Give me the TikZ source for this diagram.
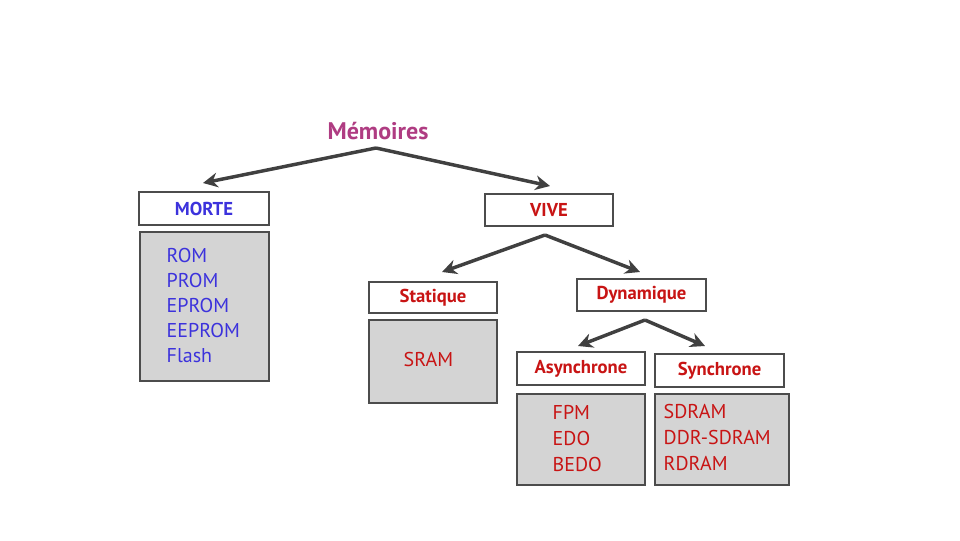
\documentclass[tikz,border=0pt]{standalone}
\usepackage{fontspec}
\setmainfont{PT Sans}
\usetikzlibrary{arrows.meta}
\begin{document}
\begin{tikzpicture}[x=0.75pt,y=-0.75pt,
  hdr/.style={draw=black!70,fill=white,line width=0.8pt,font=\bfseries\fontsize{14}{16}\selectfont},
  gbox/.style={draw=black!70,fill=black!17,line width=0.8pt},
  arr/.style={draw=black!75,line width=2.6pt,-{Stealth[length=11pt,width=11pt]}},
  lst/.style={anchor=west,font=\fontsize{15}{17}\selectfont}]
\definecolor{bl}{RGB}{60,50,220}
\definecolor{rd}{RGB}{200,20,20}
\definecolor{mg}{RGB}{175,60,130}
\useasboundingbox (0,0) rectangle (960,540);
\node[font=\bfseries\fontsize{18}{20}\selectfont,text=mg] (mem) at (378,131) {Mémoires};
\coordinate (m0) at (376,148);
\draw[hdr,text=bl] (139,192) rectangle (269,225) node[midway] (morte) {MORTE};
\draw[gbox] (140,232) rectangle (269,381);
\foreach \t/\y in {ROM/255,PROM/280,EPROM/305,EEPROM/330,Flash/356}
  \node[lst,text=bl] (n\t) at (162,\y) {\t};
\draw[hdr,text=rd] (485,194) rectangle (613,226) node[midway] (vive) {VIVE};
\draw[hdr,text=rd] (369,282) rectangle (497,313) node[midway] (stat) {Statique};
\draw[gbox] (369,320) rectangle (497,403);
\node[lst,text=rd] (sram) at (399,359) {SRAM};
\draw[hdr,text=rd] (577,279) rectangle (706,311) node[midway] (dyn) {Dynamique};
\draw[hdr,text=rd] (517,352) rectangle (645,385) node[midway] (asy) {Asynchrone};
\draw[hdr,text=rd] (655,354) rectangle (784,387) node[midway] (syn) {Synchrone};
\draw[gbox] (517,394) rectangle (645,485);
\draw[gbox] (655,394) rectangle (789,485);
\foreach \t/\y in {FPM/412,EDO/438,BEDO/464}
  \node[lst,text=rd] (a\t) at (548,\y) {\t};
\foreach \t/\y in {SDRAM/411,DDR-SDRAM/437,RDRAM/463}
  \node[lst,text=rd] (s\t) at (659,\y) {\t};
\coordinate (v0) at (545,235);
\coordinate (d0) at (645,320);
\coordinate (t1) at (203,183);
\coordinate (t2) at (550,186);
\coordinate (t3) at (442,272);
\coordinate (t4) at (640,272);
\coordinate (t5) at (578,346);
\coordinate (t6) at (705,346);
\draw[arr] (m0) -- (t1);
\draw[arr] (m0) -- (t2);
\draw[arr] (v0) -- (t3);
\draw[arr] (v0) -- (t4);
\draw[arr] (d0) -- (t5);
\draw[arr] (d0) -- (t6);
\end{tikzpicture}
\end{document}
